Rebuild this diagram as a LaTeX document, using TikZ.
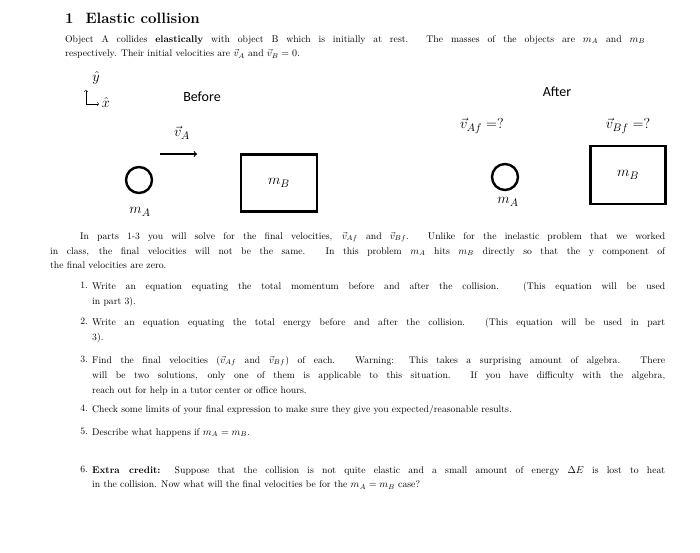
\documentclass[tikz,border=0pt]{standalone}
\usepackage{amsmath}
\usepackage{fontspec}
\newfontfamily\carlitofont{Carlito}
\begin{document}
\begin{tikzpicture}[x=1pt,y=-1pt,
  para/.style={anchor=north west,inner sep=0,align=justify,font=\fontsize{9.7}{14.8}\selectfont},
  lbl/.style={inner sep=0,font=\fontsize{15}{15}\selectfont},
  side/.style={inner sep=0,font=\carlitofont\fontsize{14}{14}\selectfont},
  thick2/.style={line width=2.4pt}]
\useasboundingbox (0,0) rectangle (700,553);
\node[anchor=west,inner sep=0,font=\fontsize{15}{15}\selectfont\bfseries] (title) at (65,18) {1\hspace{12pt}Elastic collision};
\node[para,text width=580] (intro) at (65,35) {Object A collides \textbf{elastically} with object B which is initially at rest. The masses of the objects are $m_A$ and $m_B$\linebreak respectively. Their initial velocities are $\vec v_A$ and $\vec v_B=0$.};
% axes
\node[lbl] (yh) at (96,78) {$\hat y$};
\node[lbl] (xh) at (106,103) {$\hat x$};
\coordinate (o) at (86,104);
\draw[->,line width=0.5pt] (o) -- (86,90);
\draw[->,line width=0.5pt] (o) -- (99,104);
\node[side] (before) at (202,97) {Before};
\node[side] (after) at (557,92) {After};
% before
\node[lbl] (vA) at (182,133) {$\vec v_A$};
\coordinate (a1) at (160,154); \coordinate (a2) at (197,154);
\draw[->,line width=1.2pt] (a1) -- (a2);
\node[draw,circle,thick2,minimum size=26,inner sep=0] (cA) at (139,180) {};
\node[lbl] (mA1) at (140,212) {$m_A$};
\node[lbl,draw,thick2,minimum width=76,minimum height=57] (bB) at (279,183) {$m_B$};
% after
\node[lbl] (vAf) at (482,126) {$\vec v_{Af}=?$};
\node[lbl] (vBf) at (628,126) {$\vec v_{Bf}=?$};
\node[draw,circle,thick2,minimum size=26,inner sep=0] (cA2) at (505,177) {};
\node[lbl] (mA2) at (508,202) {$m_A$};
\node[lbl,draw,thick2,minimum width=75,minimum height=58] (bB2) at (628,175) {$m_B$};
% text
\node[para,text width=615] (p) at (50,232) {\hspace*{30pt}In parts 1-3 you will solve for the final velocities, $\vec v_{Af}$ and $\vec v_{Bf}$. Unlike for the inelastic problem that we worked\linebreak in class, the final velocities will not be the same. In this problem $m_A$ hits $m_B$ directly so that the y component of\linebreak the final velocities are zero.};
\node[para,anchor=north east] (n1) at (88,282) {1.};
\node[para,text width=573] (i1) at (92,282) {Write an equation equating the total momentum before and after the collision. (This equation will be used\linebreak in part 3).};
\node[para,anchor=north east] (n2) at (88,318) {2.};
\node[para,text width=573] (i2) at (92,318) {Write an equation equating the total energy before and after the collision. (This equation will be used in part\linebreak 3).};
\node[para,anchor=north east] (n3) at (88,356) {3.};
\node[para,text width=573] (i3) at (92,356) {Find the final velocities ($\vec v_{Af}$ and $\vec v_{Bf}$) of each. Warning: This takes a surprising amount of algebra. There\linebreak will be two solutions, only one of them is applicable to this situation. If you have difficulty with the algebra,\linebreak reach out for help in a tutor center or office hours.};
\node[para,anchor=north east] (n4) at (88,405) {4.};
\node[para,text width=573] (i4) at (92,405) {Check some limits of your final expression to make sure they give you expected/reasonable results.};
\node[para,anchor=north east] (n5) at (88,428) {5.};
\node[para,text width=573] (i5) at (92,428) {Describe what happens if $m_A=m_B$.};
\node[para,anchor=north east] (n6) at (88,466) {6.};
\node[para,text width=573] (i6) at (92,466) {\textbf{Extra credit:} Suppose that the collision is not quite elastic and a small amount of energy $\Delta E$ is lost to heat\linebreak in the collision. Now what will the final velocities be for the $m_A=m_B$ case?};
\end{tikzpicture}
\end{document}
